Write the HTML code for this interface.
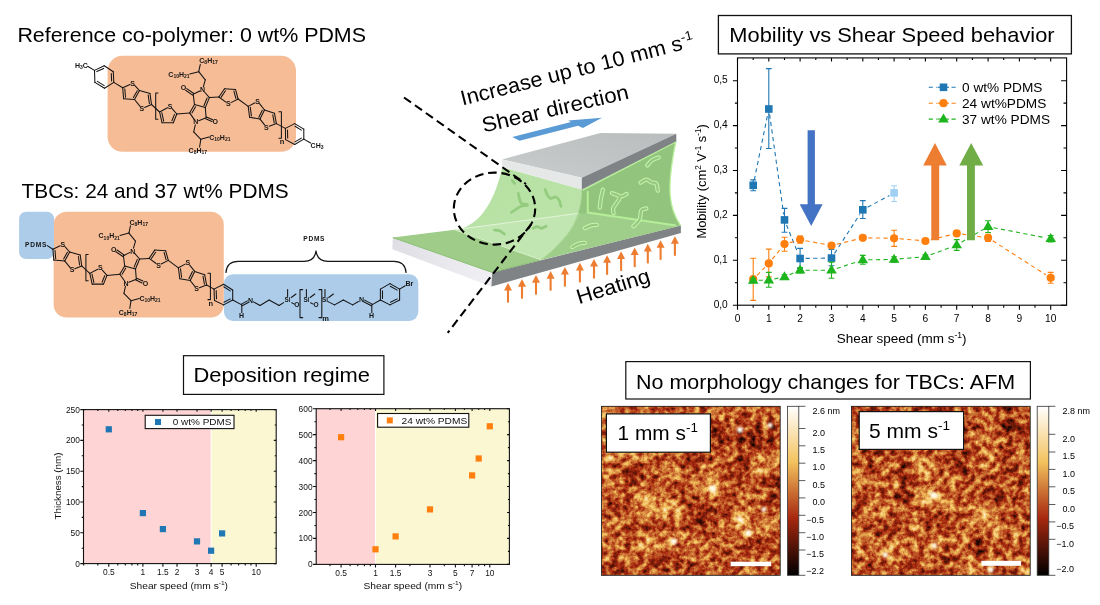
<!DOCTYPE html>
<html lang="en"><head><meta charset="utf-8"><title>Graphical abstract</title>
<style>html,body{margin:0;padding:0;background:#fff;overflow:hidden}svg{display:block}text{font-family:'Liberation Sans', sans-serif}</style></head><body>
<svg width="1100" height="605" viewBox="0 0 1100 605" font-family="'Liberation Sans', sans-serif">
<rect width="1100" height="605" fill="#fff"/>
<g id="left"><text x="17.4" y="42.2" font-size="21" textLength="348.6" lengthAdjust="spacingAndGlyphs" fill="#000">Reference co-polymer: 0 wt% PDMS</text><text x="21.6" y="197.5" font-size="21" textLength="267.0" lengthAdjust="spacingAndGlyphs" fill="#000">TBCs: 24 and 37 wt% PDMS</text><rect x="107.6" y="55.8" width="188.4" height="96" rx="15" fill="#F6BC96"/><rect x="53.6" y="211.8" width="170.2" height="105.8" rx="13" fill="#F6BC96"/><rect x="19.1" y="211.8" width="34.9" height="47.3" rx="7" fill="#ACCCEA"/><rect x="224" y="274.2" width="194.3" height="46.7" rx="9" fill="#ACCCEA"/><g stroke="#151515" stroke-width="1.05" stroke-linecap="round" stroke-linejoin="round" fill="none"><line x1="122.7" y1="87.8" x2="130.0" y2="84.4"/><line x1="134.7" y1="85.3" x2="139.5" y2="90.6"/><line x1="139.5" y1="90.6" x2="134.5" y2="99.5"/><line x1="137.3" y1="90.7" x2="133.4" y2="97.5"/><line x1="134.5" y1="99.5" x2="123.6" y2="98.7"/><line x1="123.6" y1="98.7" x2="122.7" y2="87.8"/><line x1="125.5" y1="97.3" x2="124.8" y2="88.8"/><line x1="139.5" y1="90.6" x2="150.0" y2="93.6"/><line x1="150.0" y1="93.6" x2="151.5" y2="104.5"/><line x1="148.2" y1="95.1" x2="149.4" y2="103.6"/><line x1="151.5" y1="104.5" x2="144.6" y2="107.4"/><line x1="139.9" y1="106.2" x2="134.5" y2="99.5"/><line x1="151.5" y1="104.5" x2="159.6" y2="112.0"/><line x1="159.6" y1="112.0" x2="167.5" y2="107.8"/><line x1="172.1" y1="108.7" x2="176.8" y2="114.0"/><line x1="176.8" y1="114.0" x2="173.3" y2="122.7"/><line x1="174.5" y1="114.4" x2="171.9" y2="120.8"/><line x1="173.3" y1="122.7" x2="162.0" y2="122.7"/><line x1="162.0" y1="122.7" x2="159.6" y2="112.0"/><line x1="163.7" y1="121.1" x2="161.8" y2="112.7"/><path d="M158.0 93.0H155.7V119.3H158.0" fill="none"/><line x1="176.8" y1="114.0" x2="189.6" y2="112.9"/><line x1="193.2" y1="94.3" x2="199.8" y2="91.0"/><line x1="204.5" y1="92.0" x2="209.4" y2="97.6"/><line x1="209.4" y1="97.6" x2="205.3" y2="107.6"/><line x1="207.1" y1="98.0" x2="203.9" y2="105.7"/><line x1="205.3" y1="107.6" x2="194.5" y2="104.6"/><line x1="194.5" y1="104.6" x2="193.2" y2="94.3"/><line x1="205.3" y1="107.6" x2="206.1" y2="117.8"/><line x1="206.1" y1="117.8" x2="198.7" y2="120.8"/><line x1="194.2" y1="119.4" x2="189.6" y2="112.9"/><line x1="189.6" y1="112.9" x2="194.5" y2="104.6"/><line x1="191.9" y1="112.9" x2="195.6" y2="106.7"/><line x1="192.6" y1="95.1" x2="185.7" y2="90.3"/><line x1="193.8" y1="93.5" x2="186.8" y2="88.6"/><line x1="206.5" y1="116.9" x2="212.7" y2="119.7"/><line x1="205.7" y1="118.7" x2="211.9" y2="121.5"/><line x1="203.3" y1="86.8" x2="205.3" y2="79.8"/><line x1="205.3" y1="79.8" x2="198.7" y2="71.7"/><line x1="198.7" y1="71.7" x2="200.3" y2="64.3"/><line x1="198.7" y1="71.7" x2="189.8" y2="74.0"/><line x1="195.3" y1="124.8" x2="193.7" y2="131.9"/><line x1="193.7" y1="131.9" x2="200.8" y2="139.3"/><line x1="200.8" y1="139.3" x2="209.0" y2="137.0"/><line x1="200.8" y1="139.3" x2="199.6" y2="147.0"/><line x1="209.4" y1="97.6" x2="218.9" y2="97.0"/><line x1="218.9" y1="97.0" x2="224.5" y2="88.7"/><line x1="221.2" y1="97.1" x2="225.5" y2="90.8"/><line x1="224.5" y1="88.7" x2="235.5" y2="89.4"/><line x1="235.5" y1="89.4" x2="238.1" y2="99.0"/><line x1="233.9" y1="91.1" x2="235.9" y2="98.4"/><line x1="238.1" y1="99.0" x2="231.0" y2="102.6"/><line x1="225.9" y1="102.1" x2="218.9" y2="97.0"/><line x1="238.1" y1="99.0" x2="248.2" y2="106.4"/><line x1="248.2" y1="106.4" x2="255.0" y2="102.7"/><line x1="259.5" y1="103.7" x2="264.5" y2="110.0"/><line x1="264.5" y1="110.0" x2="260.0" y2="119.1"/><line x1="262.3" y1="110.2" x2="258.8" y2="117.2"/><line x1="260.0" y1="119.1" x2="249.6" y2="117.3"/><line x1="249.6" y1="117.3" x2="248.2" y2="106.4"/><line x1="251.4" y1="115.9" x2="250.3" y2="107.3"/><line x1="264.5" y1="110.0" x2="274.5" y2="113.3"/><line x1="274.5" y1="113.3" x2="276.4" y2="123.6"/><line x1="272.8" y1="114.8" x2="274.2" y2="122.8"/><line x1="276.4" y1="123.6" x2="269.2" y2="126.3"/><line x1="264.6" y1="124.9" x2="260.0" y2="119.1"/><path d="M278.9 111.8H281.4V138.2H278.9" fill="none"/><line x1="94.5" y1="70.4" x2="104.2" y2="65.8"/><line x1="96.8" y1="71.6" x2="103.7" y2="68.4"/><line x1="104.2" y1="65.8" x2="113.3" y2="71.8"/><line x1="113.3" y1="71.8" x2="113.8" y2="82.4"/><line x1="111.3" y1="73.5" x2="111.6" y2="80.9"/><line x1="113.8" y1="82.4" x2="104.5" y2="88.2"/><line x1="104.5" y1="88.2" x2="94.9" y2="82.4"/><line x1="104.2" y1="85.6" x2="97.4" y2="81.4"/><line x1="94.9" y1="82.4" x2="94.5" y2="70.4"/><line x1="113.8" y1="82.4" x2="122.7" y2="87.8"/><line x1="87.6" y1="66.3" x2="94.5" y2="70.4"/><line x1="285.4" y1="128.4" x2="294.7" y2="123.6"/><line x1="294.7" y1="123.6" x2="303.8" y2="129.1"/><line x1="295.0" y1="126.2" x2="301.3" y2="130.1"/><line x1="303.8" y1="129.1" x2="303.8" y2="139.1"/><line x1="303.8" y1="139.1" x2="294.7" y2="144.5"/><line x1="301.4" y1="138.1" x2="295.0" y2="141.9"/><line x1="294.7" y1="144.5" x2="285.6" y2="139.6"/><line x1="285.6" y1="139.6" x2="285.4" y2="128.4"/><line x1="287.7" y1="138.0" x2="287.5" y2="130.0"/><line x1="276.4" y1="123.6" x2="285.4" y2="128.4"/><line x1="303.8" y1="139.1" x2="310.6" y2="143.0"/></g><g fill="#151515" font-weight="700" font-family="Liberation Sans, sans-serif"><text x="132.7" y="85.6" font-size="7" text-anchor="middle">S</text><text x="141.8" y="111.0" font-size="7" text-anchor="middle">S</text><text x="170.1" y="108.9" font-size="7" text-anchor="middle">S</text><text x="202.5" y="92.2" font-size="7" text-anchor="middle">N</text><text x="195.9" y="124.4" font-size="7" text-anchor="middle">N</text><text x="183.6" y="90.1" font-size="7" text-anchor="middle">O</text><text x="215.2" y="124.4" font-size="7" text-anchor="middle">O</text><text x="199.3" y="63.1" font-size="7" text-anchor="start"><tspan>C</tspan><tspan font-size="5" dy="1.3">8</tspan><tspan dy="-1.3">H</tspan><tspan font-size="5" dy="1.3">17</tspan></text><text x="189.6" y="76.8" font-size="7" text-anchor="end"><tspan>C</tspan><tspan font-size="5" dy="1.3">10</tspan><tspan dy="-1.3">H</tspan><tspan font-size="5" dy="1.3">21</tspan></text><text x="209.2" y="139.7" font-size="7" text-anchor="start"><tspan>C</tspan><tspan font-size="5" dy="1.3">10</tspan><tspan dy="-1.3">H</tspan><tspan font-size="5" dy="1.3">21</tspan></text><text x="188.6" y="153.1" font-size="7" text-anchor="start"><tspan>C</tspan><tspan font-size="5" dy="1.3">8</tspan><tspan dy="-1.3">H</tspan><tspan font-size="5" dy="1.3">17</tspan></text><text x="228.3" y="106.4" font-size="7" text-anchor="middle">S</text><text x="257.6" y="103.8" font-size="7" text-anchor="middle">S</text><text x="266.4" y="129.8" font-size="7" text-anchor="middle">S</text><text x="282.1" y="144.2" font-size="7.5" text-anchor="middle">n</text><text x="87.8" y="67.8" font-size="7" text-anchor="end"><tspan>H</tspan><tspan font-size="5" dy="1.3">3</tspan><tspan dy="-1.3">C</tspan></text><text x="310.6" y="147.5" font-size="7" text-anchor="start"><tspan>CH</tspan><tspan font-size="5" dy="1.3">3</tspan></text></g><g stroke="#151515" stroke-width="1.05" stroke-linecap="round" stroke-linejoin="round" fill="none"><line x1="52.9" y1="249.2" x2="60.2" y2="245.8"/><line x1="64.9" y1="246.7" x2="69.7" y2="252.0"/><line x1="69.7" y1="252.0" x2="64.7" y2="260.9"/><line x1="67.5" y1="252.1" x2="63.6" y2="258.9"/><line x1="64.7" y1="260.9" x2="53.8" y2="260.1"/><line x1="53.8" y1="260.1" x2="52.9" y2="249.2"/><line x1="55.7" y1="258.7" x2="55.0" y2="250.2"/><line x1="69.7" y1="252.0" x2="80.2" y2="255.0"/><line x1="80.2" y1="255.0" x2="81.7" y2="265.9"/><line x1="78.4" y1="256.5" x2="79.6" y2="265.0"/><line x1="81.7" y1="265.9" x2="74.8" y2="268.8"/><line x1="70.1" y1="267.6" x2="64.7" y2="260.9"/><line x1="81.7" y1="265.9" x2="89.8" y2="273.4"/><line x1="89.8" y1="273.4" x2="97.7" y2="269.2"/><line x1="102.3" y1="270.1" x2="107.0" y2="275.4"/><line x1="107.0" y1="275.4" x2="103.5" y2="284.1"/><line x1="104.7" y1="275.8" x2="102.1" y2="282.2"/><line x1="103.5" y1="284.1" x2="92.2" y2="284.1"/><line x1="92.2" y1="284.1" x2="89.8" y2="273.4"/><line x1="93.9" y1="282.5" x2="92.0" y2="274.1"/><path d="M88.2 254.4H85.9V280.7H88.2" fill="none"/><line x1="107.0" y1="275.4" x2="119.8" y2="274.3"/><line x1="123.4" y1="255.7" x2="130.0" y2="252.4"/><line x1="134.7" y1="253.4" x2="139.6" y2="259.0"/><line x1="139.6" y1="259.0" x2="135.5" y2="269.0"/><line x1="137.3" y1="259.4" x2="134.1" y2="267.1"/><line x1="135.5" y1="269.0" x2="124.7" y2="266.0"/><line x1="124.7" y1="266.0" x2="123.4" y2="255.7"/><line x1="135.5" y1="269.0" x2="136.3" y2="279.2"/><line x1="136.3" y1="279.2" x2="128.9" y2="282.2"/><line x1="124.4" y1="280.8" x2="119.8" y2="274.3"/><line x1="119.8" y1="274.3" x2="124.7" y2="266.0"/><line x1="122.1" y1="274.3" x2="125.8" y2="268.1"/><line x1="122.8" y1="256.5" x2="115.9" y2="251.7"/><line x1="124.0" y1="254.9" x2="117.0" y2="250.0"/><line x1="136.7" y1="278.3" x2="142.9" y2="281.1"/><line x1="135.9" y1="280.1" x2="142.1" y2="282.9"/><line x1="133.5" y1="248.2" x2="135.5" y2="241.2"/><line x1="135.5" y1="241.2" x2="128.9" y2="233.1"/><line x1="128.9" y1="233.1" x2="130.5" y2="225.7"/><line x1="128.9" y1="233.1" x2="120.0" y2="235.4"/><line x1="125.5" y1="286.2" x2="123.9" y2="293.3"/><line x1="123.9" y1="293.3" x2="131.0" y2="300.7"/><line x1="131.0" y1="300.7" x2="139.2" y2="298.4"/><line x1="131.0" y1="300.7" x2="129.8" y2="308.4"/><line x1="139.6" y1="259.0" x2="149.1" y2="258.4"/><line x1="149.1" y1="258.4" x2="154.7" y2="250.1"/><line x1="151.4" y1="258.5" x2="155.7" y2="252.2"/><line x1="154.7" y1="250.1" x2="165.7" y2="250.8"/><line x1="165.7" y1="250.8" x2="168.3" y2="260.4"/><line x1="164.1" y1="252.5" x2="166.1" y2="259.8"/><line x1="168.3" y1="260.4" x2="161.2" y2="264.0"/><line x1="156.1" y1="263.5" x2="149.1" y2="258.4"/><line x1="168.3" y1="260.4" x2="178.4" y2="267.8"/><line x1="178.4" y1="267.8" x2="185.2" y2="264.1"/><line x1="189.7" y1="265.1" x2="194.7" y2="271.4"/><line x1="194.7" y1="271.4" x2="190.2" y2="280.5"/><line x1="192.5" y1="271.6" x2="189.0" y2="278.6"/><line x1="190.2" y1="280.5" x2="179.8" y2="278.7"/><line x1="179.8" y1="278.7" x2="178.4" y2="267.8"/><line x1="181.6" y1="277.3" x2="180.5" y2="268.7"/><line x1="194.7" y1="271.4" x2="204.7" y2="274.7"/><line x1="204.7" y1="274.7" x2="206.6" y2="285.0"/><line x1="203.0" y1="276.2" x2="204.4" y2="284.2"/><line x1="206.6" y1="285.0" x2="199.4" y2="287.7"/><line x1="194.8" y1="286.3" x2="190.2" y2="280.5"/><path d="M207.9 273.2H210.4V299.6H207.9" fill="none"/><line x1="47.3" y1="245.6" x2="52.9" y2="249.2"/><line x1="214.0" y1="289.1" x2="223.6" y2="284.2"/><line x1="223.6" y1="284.2" x2="232.7" y2="290.0"/><line x1="223.8" y1="286.8" x2="230.2" y2="290.9"/><line x1="232.7" y1="290.0" x2="232.7" y2="300.0"/><line x1="232.7" y1="300.0" x2="223.6" y2="304.9"/><line x1="230.3" y1="298.9" x2="224.0" y2="302.3"/><line x1="223.6" y1="304.9" x2="214.5" y2="300.5"/><line x1="214.5" y1="300.5" x2="214.0" y2="289.1"/><line x1="216.5" y1="298.8" x2="216.2" y2="290.6"/><line x1="206.6" y1="285.0" x2="214.0" y2="289.1"/><line x1="232.7" y1="300.0" x2="241.8" y2="304.9"/><line x1="241.4" y1="304.1" x2="247.4" y2="300.9"/><line x1="242.2" y1="305.7" x2="248.3" y2="302.5"/><line x1="241.8" y1="304.9" x2="241.8" y2="312.6"/><line x1="253.5" y1="301.9" x2="260.0" y2="305.5"/><line x1="260.0" y1="305.5" x2="269.1" y2="300.0"/><line x1="269.1" y1="300.0" x2="279.1" y2="305.5"/><line x1="279.1" y1="305.5" x2="283.6" y2="302.6"/><line x1="287.6" y1="296.4" x2="287.6" y2="289.6"/><line x1="291.3" y1="297.5" x2="296.0" y2="294.0"/><line x1="306.4" y1="296.4" x2="306.4" y2="289.6"/><line x1="310.1" y1="297.5" x2="314.8" y2="294.0"/><line x1="325.0" y1="296.4" x2="325.0" y2="289.6"/><line x1="328.7" y1="297.5" x2="333.4" y2="294.0"/><line x1="291.8" y1="302.7" x2="294.4" y2="304.1"/><line x1="310.6" y1="302.7" x2="313.2" y2="304.1"/><path d="M302.7 289.6H300V317.6H302.7" fill="none"/><path d="M319 289.6H321.8V317.6H319" fill="none"/><line x1="328.0" y1="301.6" x2="334.5" y2="304.9"/><line x1="334.5" y1="304.9" x2="343.3" y2="300.0"/><line x1="343.3" y1="300.0" x2="352.7" y2="304.9"/><line x1="352.7" y1="304.9" x2="358.4" y2="301.5"/><line x1="364.6" y1="300.1" x2="372.2" y2="304.1"/><line x1="363.7" y1="301.8" x2="371.4" y2="305.7"/><line x1="371.8" y1="304.9" x2="371.8" y2="312.6"/><line x1="371.8" y1="304.9" x2="380.4" y2="300.0"/><line x1="380.4" y1="300.0" x2="380.4" y2="289.1"/><line x1="382.5" y1="298.4" x2="382.5" y2="290.7"/><line x1="380.4" y1="289.1" x2="390.0" y2="283.6"/><line x1="390.0" y1="283.6" x2="399.6" y2="289.1"/><line x1="390.3" y1="286.2" x2="397.2" y2="290.1"/><line x1="399.6" y1="289.1" x2="399.6" y2="300.0"/><line x1="399.6" y1="300.0" x2="390.0" y2="304.9"/><line x1="397.2" y1="298.9" x2="390.5" y2="302.3"/><line x1="390.0" y1="304.9" x2="380.4" y2="300.0"/><line x1="399.6" y1="289.1" x2="405.2" y2="285.7"/><path d="M226 272.4C226.6 265 230 261.4 238 261.4H304C311 261.4 315 258 316 251C317 258 321 261.4 328 261.4H394C402 261.4 405.4 265 406 272.4" fill="none" stroke-width="1.25"/></g><g fill="#151515" font-weight="700" font-family="Liberation Sans, sans-serif"><text x="62.9" y="247.0" font-size="7" text-anchor="middle">S</text><text x="72.0" y="272.4" font-size="7" text-anchor="middle">S</text><text x="100.3" y="270.3" font-size="7" text-anchor="middle">S</text><text x="132.7" y="253.6" font-size="7" text-anchor="middle">N</text><text x="126.1" y="285.8" font-size="7" text-anchor="middle">N</text><text x="113.8" y="251.5" font-size="7" text-anchor="middle">O</text><text x="145.4" y="285.8" font-size="7" text-anchor="middle">O</text><text x="129.5" y="224.5" font-size="7" text-anchor="start"><tspan>C</tspan><tspan font-size="5" dy="1.3">8</tspan><tspan dy="-1.3">H</tspan><tspan font-size="5" dy="1.3">17</tspan></text><text x="119.8" y="238.2" font-size="7" text-anchor="end"><tspan>C</tspan><tspan font-size="5" dy="1.3">10</tspan><tspan dy="-1.3">H</tspan><tspan font-size="5" dy="1.3">21</tspan></text><text x="139.4" y="301.1" font-size="7" text-anchor="start"><tspan>C</tspan><tspan font-size="5" dy="1.3">10</tspan><tspan dy="-1.3">H</tspan><tspan font-size="5" dy="1.3">21</tspan></text><text x="118.8" y="314.5" font-size="7" text-anchor="start"><tspan>C</tspan><tspan font-size="5" dy="1.3">8</tspan><tspan dy="-1.3">H</tspan><tspan font-size="5" dy="1.3">17</tspan></text><text x="158.5" y="267.8" font-size="7" text-anchor="middle">S</text><text x="187.8" y="265.2" font-size="7" text-anchor="middle">S</text><text x="196.6" y="291.2" font-size="7" text-anchor="middle">S</text><text x="210.9" y="305.6" font-size="7.5" text-anchor="middle">n</text><text x="25" y="246.5" font-size="6.6" textLength="21.4" lengthAdjust="spacing">PDMS</text><text x="241.6" y="318.1" font-size="7" text-anchor="middle">H</text><text x="250.5" y="302.8" font-size="7" text-anchor="middle">N</text><text x="287.6" y="302.4" font-size="6.3" text-anchor="middle">Si</text><text x="306.4" y="302.4" font-size="6.3" text-anchor="middle">Si</text><text x="325.0" y="302.4" font-size="6.3" text-anchor="middle">Si</text><text x="296.7" y="307.1" font-size="6.6" text-anchor="middle">O</text><text x="316.0" y="307.1" font-size="6.6" text-anchor="middle">O</text><text x="322.2" y="321.1" font-size="7.5" text-anchor="start">m</text><text x="361.5" y="302.1" font-size="7" text-anchor="middle">N</text><text x="371.6" y="318.1" font-size="7" text-anchor="middle">H</text><text x="405.4" y="286.3" font-size="7" text-anchor="start">Br</text><text x="303.3" y="240.6" font-size="6.6" textLength="21.2" lengthAdjust="spacing">PDMS</text></g></g>
<g id="mid"><defs><linearGradient id="gFront" x1="0" y1="0" x2="1" y2="0"><stop offset="0" stop-color="#dedee4"/><stop offset="1" stop-color="#f1f1f5"/></linearGradient><linearGradient id="gTop" x1="0" y1="1" x2="1" y2="0"><stop offset="0" stop-color="#c9cccc"/><stop offset="1" stop-color="#b9bdbd"/></linearGradient><linearGradient id="gMen" x1="0" y1="0" x2="1" y2="1"><stop offset="0" stop-color="#b4e0a0"/><stop offset="1" stop-color="#bfe5ad"/></linearGradient></defs><polygon points="392.8,237.6 492.2,272.4 491.4,286.4 392.4,249.2" fill="url(#gFront)"/><polygon points="492.2,272.4 680.9,225.4 680.9,233.0 491.4,286.4" fill="#808386"/><polygon points="392.8,237.6 454.6,229.8 541.0,259.8 492.2,272.4" fill="#9fcc88"/><polyline points="392.8,237.6 492.2,272.4 541.0,259.8" fill="none" stroke="#8abf76" stroke-width="1"/><path d="M581.8 189.6 L676.3 141.2 C672.5 158 669 180 670.2 195 C671 207 675 217 680.9 225.4 L541.0 259.8 C552 252 566 238 573 226 C579 214 581.5 202 581.8 189.6 Z" fill="#93c47e"/><path d="M589 213 L676 225.6 L680.6 225.6 L541.0 259.8 C552 252 566 238 573 226 C576 221 578 216 579 213.4 Z" fill="#9fcd8a"/><path d="M502.2 167.2 L581.8 189.6 C581.5 202 579 214 573 226 C566 238 552 252 541.0 259.8 L454.6 229.8 C476 228 494 206 502.2 167.2 Z" fill="url(#gMen)"/><path d="M454.6 229.8 L579 213.3 C577.5 218 575.5 222 573 226 C566 238 552 252 541.0 259.8 Z" fill="#c2e6b2"/><line x1="454.6" y1="229.8" x2="579" y2="213.3" stroke="#e3f3da" stroke-width="1.1"/><line x1="454.6" y1="229.8" x2="541.0" y2="259.8" stroke="#d4edc6" stroke-width="1"/><path d="M582.8 190.2 L675.7 141.8 C672.5 158 669 180 670.2 195 C671 207 675 217 680.4 225.4" fill="none" stroke="#b9f29c" stroke-width="1.3"/><path d="M587.8 191 V212.6 L676 225.4" fill="none" stroke="#b5ee98" stroke-width="2"/><path d="M581.8 189.6 C581.5 202 579 214 573 226 C566 238 552 252 541.0 259.8" fill="none" stroke="#a9d996" stroke-width="1"/><path d="M518.3 193.3 C518.5 194.2 519.1 197.3 519.6 199.0 C520.1 200.7 520.1 202.5 521.4 203.4 C522.7 204.3 526.4 204.2 527.4 204.4 M527.4 205.4 C526.5 205.5 523.7 205.5 522.0 206.0 C520.3 206.5 518.8 207.5 517.0 208.6 C515.2 209.7 512.3 211.8 511.4 212.4" fill="none" stroke="#93cc7e" stroke-width="2.7" stroke-linecap="round" stroke-linejoin="round"/><path d="M545.2 189.5 C545.6 190.5 546.6 194.0 547.6 195.5 C548.6 197.0 549.7 198.4 551.0 198.6 C552.3 198.8 554.3 196.6 555.6 196.8 C556.9 197.0 558.1 198.4 559.0 200.0 C559.9 201.6 560.7 205.3 561.0 206.4" fill="none" stroke="#93cc7e" stroke-width="2.7" stroke-linecap="round" stroke-linejoin="round"/><path d="M512.2 180.4 L514.6 183.4" fill="none" stroke="#93cc7e" stroke-width="2.7" stroke-linecap="round" stroke-linejoin="round"/><path d="M494.5 230.0 C495.3 230.1 497.8 230.1 499.5 230.8 C501.2 231.5 503.7 233.6 504.5 234.2" fill="none" stroke="#93cc7e" stroke-width="2.7" stroke-linecap="round" stroke-linejoin="round"/><path d="M533.2 228.3 C533.9 228.0 535.9 226.6 537.2 226.6 C538.5 226.6 539.7 228.4 541.2 228.3 C542.7 228.2 545.4 226.5 546.2 226.2" fill="none" stroke="#93cc7e" stroke-width="2.7" stroke-linecap="round" stroke-linejoin="round"/><path d="M647.3 165.4 C648.1 164.5 650.1 161.5 652.0 160.2 C653.9 158.9 657.5 157.9 658.6 157.5" fill="none" stroke="#c6f6ab" stroke-width="4.3" stroke-linecap="round" stroke-linejoin="round"/><path d="M647.3 165.4 C648.1 164.5 650.1 161.5 652.0 160.2 C653.9 158.9 657.5 157.9 658.6 157.5" fill="none" stroke="#98c983" stroke-width="2.3" stroke-linecap="round" stroke-linejoin="round"/><path d="M640.6 182.6 C641.5 182.1 644.5 179.6 646.3 179.6 C648.1 179.6 650.0 181.7 651.6 182.4 C653.2 183.1 655.2 182.2 656.2 183.6 C657.2 185.0 657.5 189.4 657.8 190.6" fill="none" stroke="#c6f6ab" stroke-width="4.3" stroke-linecap="round" stroke-linejoin="round"/><path d="M640.6 182.6 C641.5 182.1 644.5 179.6 646.3 179.6 C648.1 179.6 650.0 181.7 651.6 182.4 C653.2 183.1 655.2 182.2 656.2 183.6 C657.2 185.0 657.5 189.4 657.8 190.6" fill="none" stroke="#98c983" stroke-width="2.3" stroke-linecap="round" stroke-linejoin="round"/><path d="M602.9 189.8 C602.6 191.2 601.5 195.1 601.0 198.0 C600.5 200.9 599.9 205.9 599.7 207.5" fill="none" stroke="#c6f6ab" stroke-width="4.3" stroke-linecap="round" stroke-linejoin="round"/><path d="M602.9 189.8 C602.6 191.2 601.5 195.1 601.0 198.0 C600.5 200.9 599.9 205.9 599.7 207.5" fill="none" stroke="#98c983" stroke-width="2.3" stroke-linecap="round" stroke-linejoin="round"/><path d="M612.0 193.2 C613.2 193.8 618.6 195.1 619.5 196.5 C620.4 197.9 618.5 199.9 617.5 201.8 C616.5 203.8 613.9 206.3 613.2 208.2 C612.6 210.1 613.5 212.2 613.6 213.0 M619.5 196.5 C620.1 196.4 621.8 196.4 623.0 196.0 C624.2 195.6 625.9 194.3 626.5 194.0" fill="none" stroke="#c6f6ab" stroke-width="4.3" stroke-linecap="round" stroke-linejoin="round"/><path d="M612.0 193.2 C613.2 193.8 618.6 195.1 619.5 196.5 C620.4 197.9 618.5 199.9 617.5 201.8 C616.5 203.8 613.9 206.3 613.2 208.2 C612.6 210.1 613.5 212.2 613.6 213.0 M619.5 196.5 C620.1 196.4 621.8 196.4 623.0 196.0 C624.2 195.6 625.9 194.3 626.5 194.0" fill="none" stroke="#98c983" stroke-width="2.3" stroke-linecap="round" stroke-linejoin="round"/><path d="M646.3 208.5 C645.5 208.8 642.4 208.6 641.3 210.4 C640.2 212.2 640.9 216.8 639.6 219.4 C638.3 222.1 634.4 225.2 633.4 226.3" fill="none" stroke="#c6f6ab" stroke-width="4.3" stroke-linecap="round" stroke-linejoin="round"/><path d="M646.3 208.5 C645.5 208.8 642.4 208.6 641.3 210.4 C640.2 212.2 640.9 216.8 639.6 219.4 C638.3 222.1 634.4 225.2 633.4 226.3" fill="none" stroke="#98c983" stroke-width="2.3" stroke-linecap="round" stroke-linejoin="round"/><path d="M584.8 228.3 C585.8 227.9 588.5 226.2 590.5 225.6 C592.5 225.0 595.7 225.0 596.7 224.9" fill="none" stroke="#c6f6ab" stroke-width="4.3" stroke-linecap="round" stroke-linejoin="round"/><path d="M584.8 228.3 C585.8 227.9 588.5 226.2 590.5 225.6 C592.5 225.0 595.7 225.0 596.7 224.9" fill="none" stroke="#98c983" stroke-width="2.3" stroke-linecap="round" stroke-linejoin="round"/><path d="M572.3 247.1 C573.3 246.6 576.2 244.5 578.3 243.8 C580.4 243.1 583.7 243.0 584.8 242.8" fill="none" stroke="#c6f6ab" stroke-width="4.3" stroke-linecap="round" stroke-linejoin="round"/><path d="M572.3 247.1 C573.3 246.6 576.2 244.5 578.3 243.8 C580.4 243.1 583.7 243.0 584.8 242.8" fill="none" stroke="#98c983" stroke-width="2.3" stroke-linecap="round" stroke-linejoin="round"/><polygon points="502.2,159.4 600.5,133.0 676.3,133.8 581.8,177.7" fill="url(#gTop)"/><polygon points="502.2,159.4 581.8,177.7 581.8,189.6 502.2,167.2" fill="#e6e8e8"/><polygon points="581.8,177.7 676.3,133.8 676.3,141.2 581.8,189.6" fill="#808386"/><path d="M508.0 302.6V287.0" stroke="#ed7d31" stroke-width="2.1"/><path d="M508.0 283.0L512.0 290.6L504.0 290.6Z" fill="#ed7d31"/><path d="M522.0 298.7V283.1" stroke="#ed7d31" stroke-width="2.1"/><path d="M522.0 279.1L526.0 286.7L518.0 286.7Z" fill="#ed7d31"/><path d="M536.0 294.7V279.1" stroke="#ed7d31" stroke-width="2.1"/><path d="M536.0 275.1L540.0 282.7L532.0 282.7Z" fill="#ed7d31"/><path d="M550.6 290.7V275.1" stroke="#ed7d31" stroke-width="2.1"/><path d="M550.6 271.1L554.6 278.7L546.6 278.7Z" fill="#ed7d31"/><path d="M564.9 286.6V271.0" stroke="#ed7d31" stroke-width="2.1"/><path d="M564.9 267.0L568.9 274.6L560.9 274.6Z" fill="#ed7d31"/><path d="M579.9 282.4V266.8" stroke="#ed7d31" stroke-width="2.1"/><path d="M579.9 262.8L583.9 270.4L575.9 270.4Z" fill="#ed7d31"/><path d="M594.0 278.5V262.9" stroke="#ed7d31" stroke-width="2.1"/><path d="M594.0 258.9L598.0 266.5L590.0 266.5Z" fill="#ed7d31"/><path d="M607.1 274.8V259.2" stroke="#ed7d31" stroke-width="2.1"/><path d="M607.1 255.2L611.1 262.8L603.1 262.8Z" fill="#ed7d31"/><path d="M621.1 270.9V255.3" stroke="#ed7d31" stroke-width="2.1"/><path d="M621.1 251.3L625.1 258.9L617.1 258.9Z" fill="#ed7d31"/><path d="M634.7 267.1V251.5" stroke="#ed7d31" stroke-width="2.1"/><path d="M634.7 247.5L638.7 255.1L630.7 255.1Z" fill="#ed7d31"/><path d="M647.8 263.4V247.8" stroke="#ed7d31" stroke-width="2.1"/><path d="M647.8 243.8L651.8 251.4L643.8 251.4Z" fill="#ed7d31"/><path d="M660.6 259.8V244.2" stroke="#ed7d31" stroke-width="2.1"/><path d="M660.6 240.2L664.6 247.8L656.6 247.8Z" fill="#ed7d31"/><path d="M674.9 255.8V240.2" stroke="#ed7d31" stroke-width="2.1"/><path d="M674.9 236.2L678.9 243.8L670.9 243.8Z" fill="#ed7d31"/><polygon points="512.3,137.0 570.9,122.1 568.2,120.5 602.0,117.8 582.9,128.0 578.0,125.8 519.6,140.7" fill="#5b9bd5"/><g fill="none" stroke="#000" stroke-width="2.1" stroke-dasharray="8.6 4.8"><line x1="404" y1="97.5" x2="526" y2="184"/><line x1="531" y1="224.3" x2="447.7" y2="332.8"/><ellipse cx="494.5" cy="208.6" rx="40.7" ry="36"/></g><text transform="translate(462.6 105.6) rotate(-14.2)" font-size="21" textLength="240.0" lengthAdjust="spacingAndGlyphs">Increase up to 10 mm s<tspan font-size="13" dy="-8">-1</tspan></text><text transform="translate(483.8 132.6) rotate(-13.2)" font-size="21" textLength="150.0" lengthAdjust="spacingAndGlyphs">Shear direction</text><text transform="translate(579.1 304.3) rotate(-17.2)" font-size="21" textLength="75.8" lengthAdjust="spacingAndGlyphs">Heating</text></g>
<g id="chart"><rect x="718.4" y="15.5" width="353" height="38.4" fill="#fff" stroke="#111" stroke-width="1.3"/><text x="729.3" y="41.6" font-size="21" textLength="325.3" lengthAdjust="spacingAndGlyphs">Mobility vs Shear Speed behavior</text><path d="M754.3 179.9L767.7 114.4M769.6 114.4L783.7 214.4M786.5 225.0L798.1 253.4M805.6 258.4L826.0 258.1M834.5 253.4L859.8 214.4M867.6 207.2L889.3 195.6" fill="none" stroke="#1f77b4" stroke-width="1.1" stroke-dasharray="4.2 3.4"/><path d="M753.2 190.7V179.9M750.3 190.7h5.8M750.3 179.9h5.8" fill="none" stroke="#1f77b4" stroke-width="1.1"/><rect x="749.4" y="181.5" width="7.6" height="7.6" fill="#1f77b4"/><path d="M768.8 148.5V68.6M765.9 148.5h5.8M765.9 68.6h5.8" fill="none" stroke="#1f77b4" stroke-width="1.1"/><rect x="765.0" y="105.2" width="7.6" height="7.6" fill="#1f77b4"/><path d="M784.5 232.2V208.4M781.6 232.2h5.8M781.6 208.4h5.8" fill="none" stroke="#1f77b4" stroke-width="1.1"/><rect x="780.7" y="216.1" width="7.6" height="7.6" fill="#1f77b4"/><path d="M800.1 268.4V248.4M797.2 268.4h5.8M797.2 248.4h5.8" fill="none" stroke="#1f77b4" stroke-width="1.1"/><rect x="796.3" y="254.7" width="7.6" height="7.6" fill="#1f77b4"/><path d="M831.5 265.7V249.5M828.6 265.7h5.8M828.6 249.5h5.8" fill="none" stroke="#1f77b4" stroke-width="1.1"/><rect x="827.7" y="254.3" width="7.6" height="7.6" fill="#1f77b4"/><path d="M862.8 218.5V200.6M859.9 218.5h5.8M859.9 200.6h5.8" fill="none" stroke="#1f77b4" stroke-width="1.1"/><rect x="859.0" y="206.0" width="7.6" height="7.6" fill="#1f77b4"/><path d="M894.1 201.5V185.8M891.2 201.5h5.8M891.2 185.8h5.8" fill="none" stroke="#9fd0f3" stroke-width="1.1"/><rect x="890.3" y="189.1" width="7.6" height="7.6" fill="#9fd0f3"/><path d="M757.0 275.3L764.9 267.3M772.3 259.2L781.0 248.4M789.8 242.6L794.9 241.2M805.5 240.7L826.1 244.5M836.8 244.2L857.4 239.2M868.3 237.9L888.6 238.2M899.6 238.8L919.9 240.5M930.8 239.7L951.4 234.7M962.2 234.1L982.6 237.1M992.7 240.8L1046.1 274.9" fill="none" stroke="#ff7f0e" stroke-width="1.1" stroke-dasharray="4.2 3.4"/><path d="M753.2 300.4V258.3M750.3 300.4h5.8M750.3 258.3h5.8" fill="none" stroke="#ff7f0e" stroke-width="1.1"/><circle cx="753.2" cy="279.2" r="4.1" fill="#ff7f0e"/><path d="M768.8 276.9V249.1M765.9 276.9h5.8M765.9 249.1h5.8" fill="none" stroke="#ff7f0e" stroke-width="1.1"/><circle cx="768.8" cy="263.4" r="4.1" fill="#ff7f0e"/><path d="M784.5 251.3V237.2M781.6 251.3h5.8M781.6 237.2h5.8" fill="none" stroke="#ff7f0e" stroke-width="1.1"/><circle cx="784.5" cy="244.1" r="4.1" fill="#ff7f0e"/><path d="M800.1 243.2V236.1M797.2 243.2h5.8M797.2 236.1h5.8" fill="none" stroke="#ff7f0e" stroke-width="1.1"/><circle cx="800.1" cy="239.6" r="4.1" fill="#ff7f0e"/><path d="M831.5 247.7V243.2M828.6 247.7h5.8M828.6 243.2h5.8" fill="none" stroke="#ff7f0e" stroke-width="1.1"/><circle cx="831.5" cy="245.5" r="4.1" fill="#ff7f0e"/><path d="M862.8 240.1V235.6M859.9 240.1h5.8M859.9 235.6h5.8" fill="none" stroke="#ff7f0e" stroke-width="1.1"/><circle cx="862.8" cy="237.8" r="4.1" fill="#ff7f0e"/><path d="M894.1 246.4V230.2M891.2 246.4h5.8M891.2 230.2h5.8" fill="none" stroke="#ff7f0e" stroke-width="1.1"/><circle cx="894.1" cy="238.3" r="4.1" fill="#ff7f0e"/><path d="M925.4 242.8V239.2M922.5 242.8h5.8M922.5 239.2h5.8" fill="none" stroke="#ff7f0e" stroke-width="1.1"/><circle cx="925.4" cy="241.0" r="4.1" fill="#ff7f0e"/><path d="M956.7 235.6V231.1M953.8 235.6h5.8M953.8 231.1h5.8" fill="none" stroke="#ff7f0e" stroke-width="1.1"/><circle cx="956.7" cy="233.4" r="4.1" fill="#ff7f0e"/><path d="M988.1 241.4V234.3M985.2 241.4h5.8M985.2 234.3h5.8" fill="none" stroke="#ff7f0e" stroke-width="1.1"/><circle cx="988.1" cy="237.8" r="4.1" fill="#ff7f0e"/><path d="M1050.7 283.2V272.4M1047.8 283.2h5.8M1047.8 272.4h5.8" fill="none" stroke="#ff7f0e" stroke-width="1.1"/><circle cx="1050.7" cy="277.8" r="4.1" fill="#ff7f0e"/><path d="M758.7 280.3L763.3 280.2M774.2 279.0L779.1 278.0M789.5 274.7L795.1 272.4M805.6 270.2L826.0 270.2M836.7 268.5L857.6 261.6M868.3 259.8L888.6 259.5M899.6 258.9L919.9 257.2M930.6 254.8L951.6 247.0M961.5 242.2L983.3 229.4M993.5 227.7L1045.3 237.7" fill="none" stroke="#1eb41e" stroke-width="1.1" stroke-dasharray="4.2 3.4"/><path d="M753.2 282.8V278.3M750.3 282.8h5.8M750.3 278.3h5.8" fill="none" stroke="#1eb41e" stroke-width="1.1"/><path d="M753.2 274.9L758.5 283.8L747.9 283.8Z" fill="#1eb41e"/><path d="M768.8 287.2V272.4M765.9 287.2h5.8M765.9 272.4h5.8" fill="none" stroke="#1eb41e" stroke-width="1.1"/><path d="M768.8 274.5L774.1 283.4L763.5 283.4Z" fill="#1eb41e"/><path d="M784.5 279.2V274.7M781.6 279.2h5.8M781.6 274.7h5.8" fill="none" stroke="#1eb41e" stroke-width="1.1"/><path d="M784.5 271.3L789.8 280.2L779.2 280.2Z" fill="#1eb41e"/><path d="M800.1 272.9V267.5M797.2 272.9h5.8M797.2 267.5h5.8" fill="none" stroke="#1eb41e" stroke-width="1.1"/><path d="M800.1 264.6L805.4 273.5L794.8 273.5Z" fill="#1eb41e"/><path d="M831.5 278.3V262.1M828.6 278.3h5.8M828.6 262.1h5.8" fill="none" stroke="#1eb41e" stroke-width="1.1"/><path d="M831.5 264.6L836.8 273.5L826.2 273.5Z" fill="#1eb41e"/><path d="M862.8 264.3V255.4M859.9 264.3h5.8M859.9 255.4h5.8" fill="none" stroke="#1eb41e" stroke-width="1.1"/><path d="M862.8 254.3L868.1 263.2L857.5 263.2Z" fill="#1eb41e"/><path d="M894.1 262.1V256.7M891.2 262.1h5.8M891.2 256.7h5.8" fill="none" stroke="#1eb41e" stroke-width="1.1"/><path d="M894.1 253.8L899.4 262.7L888.8 262.7Z" fill="#1eb41e"/><path d="M925.4 258.5V254.9M922.5 258.5h5.8M922.5 254.9h5.8" fill="none" stroke="#1eb41e" stroke-width="1.1"/><path d="M925.4 251.1L930.7 260.0L920.1 260.0Z" fill="#1eb41e"/><path d="M956.7 250.4V239.6M953.8 250.4h5.8M953.8 239.6h5.8" fill="none" stroke="#1eb41e" stroke-width="1.1"/><path d="M956.7 239.4L962.0 248.3L951.4 248.3Z" fill="#1eb41e"/><path d="M988.1 232.5V220.8M985.2 232.5h5.8M985.2 220.8h5.8" fill="none" stroke="#1eb41e" stroke-width="1.1"/><path d="M988.1 221.0L993.4 229.9L982.8 229.9Z" fill="#1eb41e"/><path d="M1050.7 241.9V235.6M1047.8 241.9h5.8M1047.8 235.6h5.8" fill="none" stroke="#1eb41e" stroke-width="1.1"/><path d="M1050.7 233.1L1056.0 242.0L1045.4 242.0Z" fill="#1eb41e"/><path d="M807.6 130.2H814.9V204.2H822.6L811.2 226L799.7 204.2H807.6Z" fill="#4472c4"/><path d="M931.3 240.2H939.2V165.6H946.8L935 142.9L923.2 165.6H931.3Z" fill="#ed7d31"/><path d="M967 240.2H974.9V165.6H983.2L971.2 142.9L959.3 165.6H967Z" fill="#70ad47"/><rect x="737.5" y="57.9" width="329.1" height="247.3" fill="none" stroke="#000" stroke-width="1.1"/><path d="M737.5 305.2v4.6M737.5 57.9v3.7M753.2 305.2v2.6M753.2 57.9v2.1M768.8 305.2v4.6M768.8 57.9v3.7M784.5 305.2v2.6M784.5 57.9v2.1M800.1 305.2v4.6M800.1 57.9v3.7M815.8 305.2v2.6M815.8 57.9v2.1M831.5 305.2v4.6M831.5 57.9v3.7M847.1 305.2v2.6M847.1 57.9v2.1M862.8 305.2v4.6M862.8 57.9v3.7M878.4 305.2v2.6M878.4 57.9v2.1M894.1 305.2v4.6M894.1 57.9v3.7M909.8 305.2v2.6M909.8 57.9v2.1M925.4 305.2v4.6M925.4 57.9v3.7M941.1 305.2v2.6M941.1 57.9v2.1M956.7 305.2v4.6M956.7 57.9v3.7M972.4 305.2v2.6M972.4 57.9v2.1M988.1 305.2v4.6M988.1 57.9v3.7M1003.7 305.2v2.6M1003.7 57.9v2.1M1019.4 305.2v4.6M1019.4 57.9v3.7M1035.0 305.2v2.6M1035.0 57.9v2.1M1050.7 305.2v4.6M1050.7 57.9v3.7M737.5 305.2h-4.6M1066.6 305.2h-5.5M737.5 282.8h-2.6M1066.6 282.8h-3.1M737.5 260.3h-4.6M1066.6 260.3h-5.5M737.5 237.8h-2.6M1066.6 237.8h-3.1M737.5 215.4h-4.6M1066.6 215.4h-5.5M737.5 192.9h-2.6M1066.6 192.9h-3.1M737.5 170.5h-4.6M1066.6 170.5h-5.5M737.5 148.0h-2.6M1066.6 148.0h-3.1M737.5 125.6h-4.6M1066.6 125.6h-5.5M737.5 103.1h-2.6M1066.6 103.1h-3.1M737.5 80.7h-4.6M1066.6 80.7h-5.5" stroke="#000" stroke-width="1.1" fill="none"/><g font-size="10.2" fill="#000"><text x="727.8" y="307.9" text-anchor="end">0,0</text><text x="727.8" y="263.0" text-anchor="end">0,1</text><text x="727.8" y="218.1" text-anchor="end">0,2</text><text x="727.8" y="173.2" text-anchor="end">0,3</text><text x="727.8" y="128.3" text-anchor="end">0,4</text><text x="727.8" y="83.4" text-anchor="end">0,5</text><text x="737.5" y="322" text-anchor="middle">0</text><text x="768.8" y="322" text-anchor="middle">1</text><text x="800.1" y="322" text-anchor="middle">2</text><text x="831.5" y="322" text-anchor="middle">3</text><text x="862.8" y="322" text-anchor="middle">4</text><text x="894.1" y="322" text-anchor="middle">5</text><text x="925.4" y="322" text-anchor="middle">6</text><text x="956.7" y="322" text-anchor="middle">7</text><text x="988.1" y="322" text-anchor="middle">8</text><text x="1019.4" y="322" text-anchor="middle">9</text><text x="1050.7" y="322" text-anchor="middle">10</text></g><text x="836.8" y="343.2" font-size="13.4" fill="#000" textLength="129.8" lengthAdjust="spacingAndGlyphs">Shear speed (mm s<tspan font-size="8.5" dy="-5">-1</tspan><tspan dy="5">)</tspan></text><text transform="translate(706.2 238.6) rotate(-90)" font-size="13.4" fill="#000" textLength="114.4" lengthAdjust="spacingAndGlyphs">Mobility (cm<tspan font-size="8.5" dy="-5">2</tspan><tspan dy="5"> V</tspan><tspan font-size="8.5" dy="-5">-1</tspan><tspan dy="5"> s</tspan><tspan font-size="8.5" dy="-5">-1</tspan><tspan dy="5">)</tspan></text><path d="M928.7 87.3H958.4" stroke="#1f77b4" stroke-width="1.1" stroke-dasharray="4.2 3.4" fill="none"/><path d="M937.5 87.3H949.5" stroke="#fff" stroke-width="2" fill="none"/><path d="M938.0 87.3H949.0" stroke="#1f77b4" stroke-width="1.1" fill="none"/><rect x="939.7" y="83.5" width="7.6" height="7.6" fill="#1f77b4"/><text x="962" y="92.2" font-size="13.5" fill="#000" textLength="80.4" lengthAdjust="spacingAndGlyphs">0 wt% PDMS</text><path d="M928.7 103.2H958.4" stroke="#ff7f0e" stroke-width="1.1" stroke-dasharray="4.2 3.4" fill="none"/><path d="M937.5 103.2H949.5" stroke="#fff" stroke-width="2" fill="none"/><path d="M938.0 103.2H949.0" stroke="#ff7f0e" stroke-width="1.1" fill="none"/><circle cx="943.5" cy="103.2" r="4.1" fill="#ff7f0e"/><text x="962" y="108.1" font-size="13.5" fill="#000" textLength="84.4" lengthAdjust="spacingAndGlyphs">24 wt%PDMS</text><path d="M928.7 119.1H958.4" stroke="#1eb41e" stroke-width="1.1" stroke-dasharray="4.2 3.4" fill="none"/><path d="M937.5 119.1H949.5" stroke="#fff" stroke-width="2" fill="none"/><path d="M938.0 119.1H949.0" stroke="#1eb41e" stroke-width="1.1" fill="none"/><path d="M943.5 113.5L948.8 122.4L938.2 122.4Z" fill="#1eb41e"/><text x="962" y="124.0" font-size="13.5" fill="#000" textLength="88.0" lengthAdjust="spacingAndGlyphs">37 wt% PDMS</text></g>
<g id="thick"><rect x="183.5" y="355.7" width="200.4" height="38.7" fill="#fff" stroke="#111" stroke-width="1.2"/><text x="193.4" y="382.4" font-size="21" textLength="176.6" lengthAdjust="spacingAndGlyphs">Deposition regime</text><rect x="83.5" y="409.6" width="127.1" height="154.0" fill="#fed4d4"/><rect x="211.6" y="409.6" width="64.6" height="154.0" fill="#faf7d2"/><rect x="83.5" y="409.6" width="192.7" height="154.0" fill="none" stroke="#111" stroke-width="1.1"/><path d="M108.8 563.6v3.2M108.8 409.6v2.2M142.9 563.6v3.2M142.9 409.6v2.2M162.9 563.6v3.2M162.9 409.6v2.2M177.0 563.6v3.2M177.0 409.6v2.2M197.0 563.6v3.2M197.0 409.6v2.2M211.1 563.6v3.2M211.1 409.6v2.2M222.1 563.6v3.2M222.1 409.6v2.2M256.2 563.6v3.2M256.2 409.6v2.2M83.7 563.6v1.8M83.7 409.6v1.4M97.8 563.6v1.8M97.8 409.6v1.4M117.8 563.6v1.8M117.8 409.6v1.4M125.3 563.6v1.8M125.3 409.6v1.4M131.9 563.6v1.8M131.9 409.6v1.4M137.7 563.6v1.8M137.7 409.6v1.4M231.1 563.6v1.8M231.1 409.6v1.4M238.6 563.6v1.8M238.6 409.6v1.4M245.2 563.6v1.8M245.2 409.6v1.4M251.0 563.6v1.8M251.0 409.6v1.4M83.5 563.6h-3.2M276.2 563.6h-2.4M83.5 548.2h-1.8M276.2 548.2h-1.5M83.5 532.8h-3.2M276.2 532.8h-2.4M83.5 517.4h-1.8M276.2 517.4h-1.5M83.5 502.0h-3.2M276.2 502.0h-2.4M83.5 486.6h-1.8M276.2 486.6h-1.5M83.5 471.2h-3.2M276.2 471.2h-2.4M83.5 455.8h-1.8M276.2 455.8h-1.5M83.5 440.4h-3.2M276.2 440.4h-2.4M83.5 425.0h-1.8M276.2 425.0h-1.5M83.5 409.6h-3.2M276.2 409.6h-2.4" stroke="#111" stroke-width="1.1" fill="none"/><g font-size="8.4" fill="#111"><text x="79.9" y="566.6" text-anchor="end">0</text><text x="79.9" y="535.8" text-anchor="end">50</text><text x="79.9" y="505.0" text-anchor="end">100</text><text x="79.9" y="474.2" text-anchor="end">150</text><text x="79.9" y="443.4" text-anchor="end">200</text><text x="79.9" y="412.6" text-anchor="end">250</text><text x="108.8" y="574.8" text-anchor="middle">0.5</text><text x="142.9" y="574.8" text-anchor="middle">1</text><text x="162.9" y="574.8" text-anchor="middle">1.5</text><text x="177.0" y="574.8" text-anchor="middle">2</text><text x="197.0" y="574.8" text-anchor="middle">3</text><text x="211.1" y="574.8" text-anchor="middle">4</text><text x="222.1" y="574.8" text-anchor="middle">5</text><text x="256.2" y="574.8" text-anchor="middle">10</text></g><rect x="105.7" y="426.2" width="6.2" height="6.2" fill="#1f77b4"/><rect x="139.8" y="510.0" width="6.2" height="6.2" fill="#1f77b4"/><rect x="159.8" y="526.0" width="6.2" height="6.2" fill="#1f77b4"/><rect x="193.9" y="538.3" width="6.2" height="6.2" fill="#1f77b4"/><rect x="208.0" y="547.6" width="6.2" height="6.2" fill="#1f77b4"/><rect x="219.0" y="530.3" width="6.2" height="6.2" fill="#1f77b4"/><rect x="145.2" y="415.3" width="88.8" height="13.3" fill="#fff" stroke="#111" stroke-width="1.1"/><rect x="155.0" y="419.0" width="6" height="6" fill="#1f77b4"/><text x="172.8" y="425.3" font-size="9.6" fill="#111" textLength="58.6" lengthAdjust="spacingAndGlyphs">0 wt% PDMS</text><text transform="translate(61 519.4) rotate(-90)" font-size="9.6" fill="#111" textLength="66.8" lengthAdjust="spacingAndGlyphs">Thickness (nm)</text><text x="129.8" y="589.0" font-size="9.6" fill="#111" textLength="98.2" lengthAdjust="spacingAndGlyphs">Shear speed (mm s<tspan font-size="6.2" dy="-3.6">-1</tspan><tspan dy="3.6">)</tspan></text><rect x="316.2" y="408.7" width="58.8" height="155.7" fill="#fed4d4"/><rect x="376.0" y="408.7" width="133.4" height="155.7" fill="#faf7d2"/><rect x="316.2" y="408.7" width="193.2" height="155.7" fill="none" stroke="#111" stroke-width="1.1"/><path d="M341.1 564.4v3.2M341.1 408.7v2.2M375.5 564.4v3.2M375.5 408.7v2.2M395.6 564.4v3.2M395.6 408.7v2.2M430.0 564.4v3.2M430.0 408.7v2.2M455.4 564.4v3.2M455.4 408.7v2.2M472.1 564.4v3.2M472.1 408.7v2.2M489.8 564.4v3.2M489.8 408.7v2.2M330.0 564.4v1.8M330.0 408.7v1.4M350.1 564.4v1.8M350.1 408.7v1.4M357.8 564.4v1.8M357.8 408.7v1.4M364.4 564.4v1.8M364.4 408.7v1.4M370.3 564.4v1.8M370.3 408.7v1.4M409.9 564.4v1.8M409.9 408.7v1.4M444.3 564.4v1.8M444.3 408.7v1.4M464.4 564.4v1.8M464.4 408.7v1.4M478.7 564.4v1.8M478.7 408.7v1.4M484.6 564.4v1.8M484.6 408.7v1.4M316.2 564.4h-3.2M509.4 564.4h-2.4M316.2 551.4h-1.8M509.4 551.4h-1.5M316.2 538.4h-3.2M509.4 538.4h-2.4M316.2 525.5h-1.8M509.4 525.5h-1.5M316.2 512.5h-3.2M509.4 512.5h-2.4M316.2 499.5h-1.8M509.4 499.5h-1.5M316.2 486.5h-3.2M509.4 486.5h-2.4M316.2 473.6h-1.8M509.4 473.6h-1.5M316.2 460.6h-3.2M509.4 460.6h-2.4M316.2 447.6h-1.8M509.4 447.6h-1.5M316.2 434.6h-3.2M509.4 434.6h-2.4M316.2 421.7h-1.8M509.4 421.7h-1.5M316.2 408.7h-3.2M509.4 408.7h-2.4" stroke="#111" stroke-width="1.1" fill="none"/><g font-size="8.4" fill="#111"><text x="312.6" y="567.4" text-anchor="end">0</text><text x="312.6" y="541.4" text-anchor="end">100</text><text x="312.6" y="515.5" text-anchor="end">200</text><text x="312.6" y="489.5" text-anchor="end">300</text><text x="312.6" y="463.6" text-anchor="end">400</text><text x="312.6" y="437.6" text-anchor="end">500</text><text x="312.6" y="411.7" text-anchor="end">600</text><text x="341.1" y="575.6" text-anchor="middle">0.5</text><text x="375.5" y="575.6" text-anchor="middle">1</text><text x="395.6" y="575.6" text-anchor="middle">1.5</text><text x="430.0" y="575.6" text-anchor="middle">3</text><text x="455.4" y="575.6" text-anchor="middle">5</text><text x="472.1" y="575.6" text-anchor="middle">7</text><text x="489.8" y="575.6" text-anchor="middle">10</text></g><rect x="338.0" y="434.1" width="6.2" height="6.2" fill="#ff7f0e"/><rect x="372.4" y="546.2" width="6.2" height="6.2" fill="#ff7f0e"/><rect x="392.5" y="533.3" width="6.2" height="6.2" fill="#ff7f0e"/><rect x="426.9" y="506.3" width="6.2" height="6.2" fill="#ff7f0e"/><rect x="469.0" y="472.3" width="6.2" height="6.2" fill="#ff7f0e"/><rect x="475.6" y="455.4" width="6.2" height="6.2" fill="#ff7f0e"/><rect x="486.7" y="423.2" width="6.2" height="6.2" fill="#ff7f0e"/><rect x="377.6" y="413.5" width="91.2" height="13.7" fill="#fff" stroke="#111" stroke-width="1.1"/><rect x="386.8" y="417.4" width="6" height="6" fill="#ff7f0e"/><text x="401.6" y="423.7" font-size="9.6" fill="#111" textLength="65.6" lengthAdjust="spacingAndGlyphs">24 wt% PDMS</text><text x="363.5" y="589.0" font-size="9.6" fill="#111" textLength="98.6" lengthAdjust="spacingAndGlyphs">Shear speed (mm s<tspan font-size="6.2" dy="-3.6">-1</tspan><tspan dy="3.6">)</tspan></text></g>
<g id="afm"><defs><filter id="afmA" filterUnits="userSpaceOnUse" x="585.6" y="390.3" width="210.6" height="201.0" color-interpolation-filters="sRGB"><feGaussianBlur in="SourceGraphic" stdDeviation="4" result="bias"/><feTurbulence type="fractalNoise" baseFrequency="0.045" numOctaves="2" seed="7"/><feColorMatrix type="matrix" values="1 0 0 0 0 0 1 0 0 0 0 0 1 0 0 0 0 0 0 1" result="a"/><feTurbulence type="fractalNoise" baseFrequency="0.16" numOctaves="4" seed="11"/><feColorMatrix type="matrix" values="1 0 0 0 0 0 1 0 0 0 0 0 1 0 0 0 0 0 0 1" result="b"/><feComposite in="a" in2="b" operator="arithmetic" k1="0" k2="0.4" k3="0.9" k4="-0.15" result="c"/><feComposite in="c" in2="bias" operator="arithmetic" k1="0" k2="1" k3="0.90" k4="-0.450" result="d"/><feColorMatrix in="d" type="matrix" values="1 0 0 0 0 1 0 0 0 0 1 0 0 0 0 0 0 0 0 1"/><feComponentTransfer><feFuncR type="table" tableValues="0.000 0.000 0.000 0.047 0.095 0.142 0.190 0.237 0.285 0.332 0.380 0.427 0.475 0.522 0.570 0.617 0.662 0.683 0.705 0.727 0.749 0.771 0.793 0.815 0.836 0.858 0.880 0.902 0.924 0.946 0.955 0.959 0.962 0.966 0.969 0.973 0.976 0.980 0.983 0.987 0.990"/><feFuncG type="table" tableValues="0.000 0.000 0.000 0.011 0.023 0.034 0.045 0.057 0.068 0.079 0.090 0.102 0.113 0.124 0.136 0.147 0.163 0.207 0.252 0.297 0.342 0.387 0.432 0.477 0.521 0.566 0.611 0.656 0.701 0.746 0.773 0.790 0.808 0.826 0.844 0.861 0.879 0.897 0.915 0.932 0.950"/><feFuncB type="table" tableValues="0.000 0.000 0.000 0.004 0.008 0.013 0.017 0.021 0.025 0.030 0.034 0.038 0.042 0.047 0.051 0.055 0.062 0.084 0.107 0.130 0.153 0.175 0.198 0.221 0.243 0.266 0.289 0.312 0.334 0.357 0.396 0.443 0.490 0.538 0.585 0.632 0.679 0.726 0.774 0.821 0.868"/></feComponentTransfer></filter><filter id="afmB" filterUnits="userSpaceOnUse" x="835.6" y="390.3" width="210.6" height="201.0" color-interpolation-filters="sRGB"><feGaussianBlur in="SourceGraphic" stdDeviation="4" result="bias"/><feTurbulence type="fractalNoise" baseFrequency="0.045" numOctaves="2" seed="23"/><feColorMatrix type="matrix" values="1 0 0 0 0 0 1 0 0 0 0 0 1 0 0 0 0 0 0 1" result="a"/><feTurbulence type="fractalNoise" baseFrequency="0.16" numOctaves="4" seed="5"/><feColorMatrix type="matrix" values="1 0 0 0 0 0 1 0 0 0 0 0 1 0 0 0 0 0 0 1" result="b"/><feComposite in="a" in2="b" operator="arithmetic" k1="0" k2="0.4" k3="0.9" k4="-0.15" result="c"/><feComposite in="c" in2="bias" operator="arithmetic" k1="0" k2="1" k3="0.90" k4="-0.450" result="d"/><feColorMatrix in="d" type="matrix" values="1 0 0 0 0 1 0 0 0 0 1 0 0 0 0 0 0 0 0 1"/><feComponentTransfer><feFuncR type="table" tableValues="0.000 0.000 0.000 0.047 0.095 0.142 0.190 0.237 0.285 0.332 0.380 0.427 0.475 0.522 0.570 0.617 0.662 0.683 0.705 0.727 0.749 0.771 0.793 0.815 0.836 0.858 0.880 0.902 0.924 0.946 0.955 0.959 0.962 0.966 0.969 0.973 0.976 0.980 0.983 0.987 0.990"/><feFuncG type="table" tableValues="0.000 0.000 0.000 0.011 0.023 0.034 0.045 0.057 0.068 0.079 0.090 0.102 0.113 0.124 0.136 0.147 0.163 0.207 0.252 0.297 0.342 0.387 0.432 0.477 0.521 0.566 0.611 0.656 0.701 0.746 0.773 0.790 0.808 0.826 0.844 0.861 0.879 0.897 0.915 0.932 0.950"/><feFuncB type="table" tableValues="0.000 0.000 0.000 0.004 0.008 0.013 0.017 0.021 0.025 0.030 0.034 0.038 0.042 0.047 0.051 0.055 0.062 0.084 0.107 0.130 0.153 0.175 0.198 0.221 0.243 0.266 0.289 0.312 0.334 0.357 0.396 0.443 0.490 0.538 0.585 0.632 0.679 0.726 0.774 0.821 0.868"/></feComponentTransfer></filter><filter id="blur1" x="-0.5" y="-0.5" width="2" height="2"><feGaussianBlur stdDeviation="0.8"/></filter><clipPath id="clipA"><rect x="601.6" y="406.3" width="178.6" height="169.0"/></clipPath><clipPath id="clipB"><rect x="851.6" y="406.3" width="178.6" height="169.0"/></clipPath></defs><rect x="625.8" y="361.6" width="404.6" height="37.4" fill="#fff" stroke="#111" stroke-width="1.2"/><text x="636" y="388.5" font-size="21" textLength="379.2" lengthAdjust="spacingAndGlyphs">No morphology changes for TBCs: AFM</text><g clip-path="url(#clipA)"><g filter="url(#afmA)"><rect x="569.6" y="374.3" width="242.6" height="233.0" fill="#808080"/><ellipse cx="703.0" cy="516.0" rx="11.0" ry="20.0" fill="#5c5c5c"/><ellipse cx="729.0" cy="473.0" rx="8.0" ry="7.0" fill="#404040"/><ellipse cx="773.0" cy="483.0" rx="7.0" ry="9.0" fill="#474747"/><ellipse cx="620.0" cy="507.0" rx="7.0" ry="6.0" fill="#4c4c4c"/><ellipse cx="631.0" cy="476.0" rx="8.0" ry="6.0" fill="#525252"/><ellipse cx="752.0" cy="445.0" rx="22.0" ry="10.0" fill="#5c5c5c"/><ellipse cx="716.0" cy="430.0" rx="7.0" ry="8.0" fill="#4c4c4c"/><ellipse cx="655.0" cy="560.0" rx="16.0" ry="7.0" fill="#666666"/><ellipse cx="760.0" cy="548.0" rx="12.0" ry="8.0" fill="#616161"/><ellipse cx="690.0" cy="465.0" rx="9.0" ry="7.0" fill="#616161"/><ellipse cx="655.0" cy="507.0" rx="24.0" ry="14.0" fill="#a3a3a3"/><ellipse cx="712.0" cy="489.0" rx="8.0" ry="9.0" fill="#c7c7c7"/><ellipse cx="745.0" cy="522.0" rx="12.0" ry="10.0" fill="#a8a8a8"/><ellipse cx="640.0" cy="545.0" rx="16.0" ry="9.0" fill="#9e9e9e"/><ellipse cx="668.0" cy="470.0" rx="10.0" ry="7.0" fill="#9e9e9e"/><ellipse cx="700.0" cy="455.0" rx="9.0" ry="5.0" fill="#9e9e9e"/><ellipse cx="760.0" cy="470.0" rx="7.0" ry="5.0" fill="#9e9e9e"/></g><g filter="url(#blur1)"><circle cx="740.0" cy="429.8" r="3.0" fill="#fffbe8"/><circle cx="770.0" cy="425.3" r="2.5" fill="#fffbe8"/><circle cx="712.6" cy="488.7" r="3.4" fill="#fffbe8"/><circle cx="673.9" cy="541.4" r="3.0" fill="#fffbe8"/><circle cx="748.3" cy="533.0" r="3.0" fill="#fffbe8"/><circle cx="763.8" cy="509.5" r="2.4" fill="#fffbe8"/><circle cx="739.3" cy="518.5" r="2.2" fill="#fffbe8"/></g></g><rect x="601.6" y="406.3" width="178.6" height="169.0" fill="none" stroke="#111" stroke-width="0.8"/><rect x="730.6" y="561.7" width="40.5" height="4.5" fill="#fff"/><rect x="606.4" y="413.9" width="104" height="38.3" fill="#fff" stroke="#111" stroke-width="1.2"/><text x="617.6" y="439.6" font-size="21" textLength="80.3" lengthAdjust="spacingAndGlyphs">1 mm s<tspan font-size="13.5" dy="-8">-1</tspan></text><linearGradient id="cbA" x1="0" y1="1" x2="0" y2="0"><stop offset="0" stop-color="#000"/><stop offset="0.34" stop-color="rgb(168,40,15)"/><stop offset="0.67" stop-color="rgb(243,194,93)"/><stop offset="1" stop-color="#fff"/></linearGradient><rect x="787.6" y="406.3" width="11.2" height="169.0" fill="url(#cbA)" stroke="#333" stroke-width="0.8"/><text x="812.4" y="414.2" font-size="9" fill="#000">2.6 nm</text><text x="812.4" y="435.7" font-size="9" fill="#000">2.0</text><text x="812.4" y="453.0" font-size="9" fill="#000">1.5</text><text x="812.4" y="470.4" font-size="9" fill="#000">1.0</text><text x="812.4" y="487.8" font-size="9" fill="#000">0.5</text><text x="812.4" y="505.1" font-size="9" fill="#000">0.0</text><text x="806.2" y="522.5" font-size="9" fill="#000">−0.5</text><text x="806.2" y="539.9" font-size="9" fill="#000">−1.0</text><text x="806.2" y="557.2" font-size="9" fill="#000">−1.5</text><text x="806.2" y="573.7" font-size="9" fill="#000">−2.2</text><path d="M798.8 406.3h6.6M798.8 428.5h6.6M798.8 445.8h6.6M798.8 463.2h6.6M798.8 480.6h6.6M798.8 497.9h6.6M798.8 515.3h6.6M798.8 532.7h6.6M798.8 550.0h6.6M798.8 575.3h6.6" stroke="#333" stroke-width="0.8" fill="none"/><g clip-path="url(#clipB)"><g filter="url(#afmB)"><rect x="819.6" y="374.3" width="242.6" height="233.0" fill="#808080"/><ellipse cx="970.0" cy="428.0" rx="11.0" ry="8.0" fill="#474747"/><ellipse cx="1012.0" cy="427.0" rx="11.0" ry="8.0" fill="#474747"/><ellipse cx="904.0" cy="495.0" rx="9.0" ry="8.0" fill="#474747"/><ellipse cx="958.0" cy="467.0" rx="8.0" ry="6.0" fill="#474747"/><ellipse cx="1000.0" cy="498.0" rx="8.0" ry="7.0" fill="#474747"/><ellipse cx="896.0" cy="530.0" rx="8.0" ry="7.0" fill="#4c4c4c"/><ellipse cx="980.0" cy="546.0" rx="8.0" ry="7.0" fill="#4c4c4c"/><ellipse cx="1023.0" cy="477.0" rx="6.0" ry="8.0" fill="#4c4c4c"/><ellipse cx="935.0" cy="520.0" rx="11.0" ry="7.0" fill="#616161"/><ellipse cx="870.0" cy="470.0" rx="7.0" ry="7.0" fill="#616161"/><ellipse cx="1005.0" cy="455.0" rx="12.0" ry="7.0" fill="#616161"/><ellipse cx="933.0" cy="495.0" rx="9.0" ry="9.0" fill="#c7c7c7"/><ellipse cx="880.0" cy="500.0" rx="16.0" ry="10.0" fill="#a3a3a3"/><ellipse cx="934.0" cy="546.0" rx="8.0" ry="7.0" fill="#b2b2b2"/><ellipse cx="885.0" cy="555.0" rx="9.0" ry="7.0" fill="#b2b2b2"/><ellipse cx="975.0" cy="510.0" rx="12.0" ry="9.0" fill="#9e9e9e"/><ellipse cx="1000.0" cy="530.0" rx="12.0" ry="8.0" fill="#9e9e9e"/><ellipse cx="930.0" cy="465.0" rx="10.0" ry="6.0" fill="#9e9e9e"/><ellipse cx="985.0" cy="480.0" rx="9.0" ry="5.0" fill="#9e9e9e"/></g><g filter="url(#blur1)"><circle cx="933.4" cy="495.2" r="3.3" fill="#fffbe8"/><circle cx="934.3" cy="545.8" r="2.5" fill="#fffbe8"/><circle cx="885.2" cy="554.8" r="2.6" fill="#fffbe8"/><circle cx="990.8" cy="569.6" r="2.8" fill="#fffbe8"/></g></g><rect x="851.6" y="406.3" width="178.6" height="169.0" fill="none" stroke="#111" stroke-width="0.8"/><rect x="981.4" y="560.8" width="39.7" height="5" fill="#fff"/><rect x="859.2" y="411.6" width="104.4" height="37.8" fill="#fff" stroke="#111" stroke-width="1.2"/><text x="869.0" y="437.6" font-size="21" textLength="81.0" lengthAdjust="spacingAndGlyphs">5 mm s<tspan font-size="13.5" dy="-8">-1</tspan></text><linearGradient id="cbB" x1="0" y1="1" x2="0" y2="0"><stop offset="0" stop-color="#000"/><stop offset="0.34" stop-color="rgb(168,40,15)"/><stop offset="0.67" stop-color="rgb(243,194,93)"/><stop offset="1" stop-color="#fff"/></linearGradient><rect x="1037.2" y="406.3" width="11.6" height="169.0" fill="url(#cbB)" stroke="#333" stroke-width="0.8"/><text x="1062.4" y="414.2" font-size="9" fill="#000">2.8 nm</text><text x="1062.4" y="441.5" font-size="9" fill="#000">2.0</text><text x="1062.4" y="459.2" font-size="9" fill="#000">1.5</text><text x="1062.4" y="476.6" font-size="9" fill="#000">1.0</text><text x="1062.4" y="494.0" font-size="9" fill="#000">0.5</text><text x="1062.4" y="511.7" font-size="9" fill="#000">0.0</text><text x="1056.2" y="529.1" font-size="9" fill="#000">−0.5</text><text x="1056.2" y="546.5" font-size="9" fill="#000">−1.0</text><text x="1056.2" y="572.1" font-size="9" fill="#000">−2.0</text><path d="M1048.8 406.3h6.6M1048.8 434.3h6.6M1048.8 452.0h6.6M1048.8 469.4h6.6M1048.8 486.8h6.6M1048.8 504.5h6.6M1048.8 521.9h6.6M1048.8 539.3h6.6M1048.8 575.3h6.6" stroke="#333" stroke-width="0.8" fill="none"/></g>
</svg>
</body></html>
